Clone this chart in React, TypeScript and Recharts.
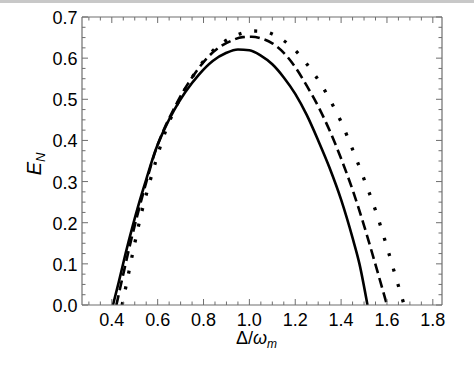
import { LineChart, Line, XAxis, YAxis } from "recharts";

const solidX = [0.405, 0.43, 0.46, 0.49, 0.52, 0.55, 0.59, 0.63, 0.67, 0.72, 0.78, 0.84, 0.9, 0.95, 1.0, 1.05, 1.1, 1.15, 1.2, 1.25, 1.3, 1.35, 1.4, 1.45, 1.48, 1.515];
const solidY = [0, 0.055, 0.125, 0.19, 0.25, 0.305, 0.375, 0.428, 0.472, 0.517, 0.56, 0.593, 0.613, 0.621, 0.619, 0.606, 0.585, 0.553, 0.513, 0.462, 0.4, 0.333, 0.256, 0.163, 0.1, 0];

const dashedX = [0.42, 0.45, 0.48, 0.51, 0.55, 0.59, 0.63, 0.67, 0.72, 0.77, 0.82, 0.87, 0.92, 0.97, 1.01, 1.05, 1.1, 1.15, 1.2, 1.25, 1.3, 1.35, 1.4, 1.45, 1.5, 1.55, 1.6];
const dashedY = [0, 0.075, 0.148, 0.215, 0.298, 0.374, 0.43, 0.476, 0.527, 0.569, 0.603, 0.627, 0.642, 0.651, 0.652, 0.648, 0.636, 0.613, 0.578, 0.533, 0.483, 0.424, 0.356, 0.28, 0.193, 0.098, 0];

const dottedX = [0.445, 0.47, 0.5, 0.53, 0.56, 0.59, 0.63, 0.67, 0.72, 0.77, 0.82, 0.87, 0.92, 0.97, 1.02, 1.07, 1.12, 1.17, 1.22, 1.27, 1.31, 1.35, 1.4, 1.45, 1.5, 1.55, 1.6, 1.64, 1.675];
const dottedY = [0, 0.068, 0.15, 0.225, 0.288, 0.346, 0.416, 0.47, 0.525, 0.57, 0.606, 0.632, 0.65, 0.661, 0.666, 0.664, 0.653, 0.634, 0.607, 0.571, 0.539, 0.5, 0.445, 0.378, 0.306, 0.23, 0.141, 0.065, 0];

const xMajor = [0.4, 0.6, 0.8, 1.0, 1.2, 1.4, 1.6, 1.8];
const yMajor = [0, 0.1, 0.2, 0.3, 0.4, 0.5, 0.6, 0.7];
const X_DOMAIN: [number, number] = [0.27, 1.84];
const Y_DOMAIN: [number, number] = [0, 0.7];

const toPoints = (xs: number[], ys: number[]) => xs.map((x, i) => ({ x, y: ys[i] }));
const solid = toPoints(solidX, solidY);
const dashed = toPoints(dashedX, dashedY);
const dotted = toPoints(dottedX, dottedY);

// minor ticks: 4 subdivisions between majors, clipped to the domain
const withMinor = (major: number[], step: number, [lo, hi]: [number, number]) => {
  const out: number[] = [];
  const start = major[0] - step * 4;
  for (let v = start; v <= hi + 1e-9; v += step) {
    const r = Math.round(v * 1000) / 1000;
    if (r >= lo - 1e-9) out.push(r);
  }
  return out;
};
const xTicks = withMinor(xMajor, 0.05, X_DOMAIN);
const yTicks = withMinor(yMajor, 0.025, Y_DOMAIN);
const isMajor = (v: number, major: number[]) => major.some((m) => Math.abs(m - v) < 1e-6);

const FRAME = "#6e6e6e";
const TEXT = "#000";
const FONT = "'Liberation Sans', Arial, sans-serif";
const MAJ = 6;
const MIN = 3.5;

const BottomTick = (props: any) => {
  const { x, y, payload } = props;
  const major = isMajor(payload.value, xMajor);
  return (
    <g>
      <line x1={x} y1={y} x2={x} y2={y - (major ? MAJ : MIN)} stroke={FRAME} strokeWidth={1} />
      {major && (
        <text x={x} y={y + 21} textAnchor="middle" fontSize={18} fill={TEXT} fontFamily={FONT}>
          {payload.value.toFixed(1)}
        </text>
      )}
    </g>
  );
};

const TopTick = (props: any) => {
  const { x, y, payload } = props;
  const major = isMajor(payload.value, xMajor);
  return <line x1={x} y1={y} x2={x} y2={y + (major ? MAJ : MIN)} stroke={FRAME} strokeWidth={1} />;
};

const LeftTick = (props: any) => {
  const { x, y, payload } = props;
  const major = isMajor(payload.value, yMajor);
  return (
    <g>
      <line x1={x} y1={y} x2={x + (major ? MAJ : MIN)} y2={y} stroke={FRAME} strokeWidth={1} />
      {major && (
        <text x={x - 4.5} y={y + 7} textAnchor="end" fontSize={18} fill={TEXT} fontFamily={FONT}>
          {payload.value.toFixed(1)}
        </text>
      )}
    </g>
  );
};

const RightTick = (props: any) => {
  const { x, y, payload } = props;
  const major = isMajor(payload.value, yMajor);
  return <line x1={x} y1={y} x2={x - (major ? MAJ : MIN)} y2={y} stroke={FRAME} strokeWidth={1} />;
};

const XTitle = () => (
  <text x={236} y={344} fontSize={18} fill={TEXT} fontFamily={FONT}>
    Δ/<tspan fontStyle="italic">ω</tspan>
    <tspan fontStyle="italic" fontSize={12} dy={4}>m</tspan>
  </text>
);

const YTitle = () => (
  <text transform="translate(41,164) rotate(-90)" textAnchor="middle" fontSize={20} fill={TEXT} fontFamily={FONT}>
    <tspan fontStyle="italic">E</tspan>
    <tspan fontStyle="italic" fontSize={13} dy={4}>N</tspan>
  </text>
);

const axisLine = { stroke: FRAME, strokeWidth: 1.2 };

export default function App() {
  return (
    <div style={{ position: "absolute", left: 0, top: 0, width: 474, height: 373, background: "#fff" }}>
      <div style={{ position: "absolute", left: 0, top: 0, width: 474, height: 3, background: "#c8c8c8" }} />
      <LineChart width={474} height={373} margin={{ top: 12, right: 27, bottom: 28, left: 42 }}>
        <XAxis
          xAxisId="b"
          dataKey="x"
          type="number"
          domain={X_DOMAIN}
          allowDataOverflow
          ticks={xTicks}
          interval={0}
          height={40}
          tickSize={0}
          tickMargin={0}
          tickLine={false}
          axisLine={axisLine}
          tick={<BottomTick />}
          label={<XTitle />}
        />
        <XAxis
          xAxisId="t"
          orientation="top"
          dataKey="x"
          type="number"
          domain={X_DOMAIN}
          allowDataOverflow
          ticks={xTicks}
          interval={0}
          height={5}
          tickSize={0}
          tickMargin={0}
          tickLine={false}
          axisLine={axisLine}
          tick={<TopTick />}
        />
        <YAxis
          yAxisId="l"
          type="number"
          domain={Y_DOMAIN}
          allowDataOverflow
          ticks={yTicks}
          interval={0}
          width={40}
          tickSize={0}
          tickMargin={0}
          tickLine={false}
          axisLine={axisLine}
          tick={<LeftTick />}
          label={<YTitle />}
        />
        <YAxis
          yAxisId="r"
          orientation="right"
          type="number"
          domain={Y_DOMAIN}
          allowDataOverflow
          ticks={yTicks}
          interval={0}
          width={5}
          tickSize={0}
          tickMargin={0}
          tickLine={false}
          axisLine={axisLine}
          tick={<RightTick />}
        />
        <Line xAxisId="b" yAxisId="l" data={solid} dataKey="y" type="monotone" stroke="#000" strokeWidth={2.6} dot={false} isAnimationActive={false} />
        <Line xAxisId="b" yAxisId="l" data={dashed} dataKey="y" type="monotone" stroke="#000" strokeWidth={2.6} strokeDasharray="10 5" dot={false} isAnimationActive={false} />
        <Line xAxisId="b" yAxisId="l" data={dotted} dataKey="y" type="monotone" stroke="#000" strokeWidth={3.3} strokeDasharray="3 13" strokeLinecap="butt" dot={false} isAnimationActive={false} />
      </LineChart>
    </div>
  );
}
